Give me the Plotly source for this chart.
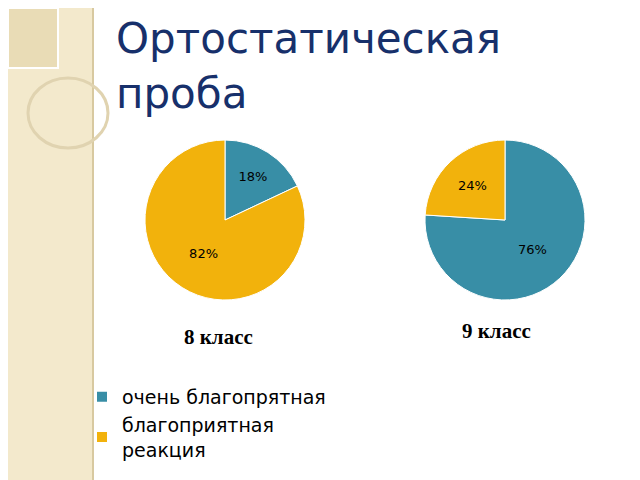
import plotly.graph_objects as go

labels = ["очень благопрятная", "благоприятная<br>реакция"]
grade8 = [18, 82]
grade9 = [76, 24]
colors = ["#388EA6", "#F2B20C"]

W, H = 640, 480


def px(x):
    return x / W


def py(y):
    return 1 - y / H


fig = go.Figure()
for vals, x0, x1, show in [(grade8, 92, 342, True), (grade9, 372, 622, False)]:
    fig.add_trace(go.Pie(
        labels=labels, values=vals, sort=False, direction="clockwise", rotation=0,
        marker=dict(colors=colors, line=dict(color="white", width=1)),
        textinfo="percent", textposition="inside", insidetextorientation="horizontal",
        textfont=dict(size=13, color="black", family="DejaVu Sans"),
        domain=dict(x=[px(x0), px(x1)], y=[py(292), py(132)]),
        showlegend=show,
    ))

shapes = [
    dict(type="rect", xref="paper", yref="paper", x0=0, x1=px(85), y0=0, y1=1,
         fillcolor="#F3E9CC", line=dict(width=0), layer="below"),
    dict(type="line", xref="paper", yref="paper", x0=px(85), x1=px(85), y0=0, y1=1,
         line=dict(color="#D8C9A0", width=2)),
    dict(type="circle", xref="paper", yref="paper", x0=px(20), x1=px(100), y0=py(140), y1=py(70),
         line=dict(color="#E0D3B0", width=3)),
    dict(type="rect", xref="paper", yref="paper", x0=px(0), x1=px(50), y0=py(60), y1=py(0),
         fillcolor="#E9DCB6", line=dict(color="white", width=2)),
]

annotations = [
    dict(text="Ортостатическая<br>проба", x=px(106), y=py(4), xref="paper", yref="paper",
         showarrow=False, xanchor="left", yanchor="top", align="left",
         font=dict(family="DejaVu Sans", size=42, color="#17306B")),
    dict(text="<b>8 класс</b>", x=px(210), y=py(343), xref="paper", yref="paper", showarrow=False,
         font=dict(family="Liberation Serif", size=21, color="black"), xanchor="center"),
    dict(text="<b>9 класс</b>", x=px(488), y=py(337), xref="paper", yref="paper", showarrow=False,
         font=dict(family="Liberation Serif", size=21, color="black"), xanchor="center"),
]

fig.update_layout(
    width=W, height=H,
    margin=dict(l=0, r=0, t=0, b=0),
    paper_bgcolor="white",
    legend=dict(x=px(74), y=py(370), xanchor="left", yanchor="top",
                bgcolor="rgba(0,0,0,0)",
                font=dict(family="DejaVu Sans", size=19, color="black"),
                itemsizing="constant", tracegroupgap=0),
    shapes=shapes,
    annotations=annotations,
)

fig.write_html("out.html")
